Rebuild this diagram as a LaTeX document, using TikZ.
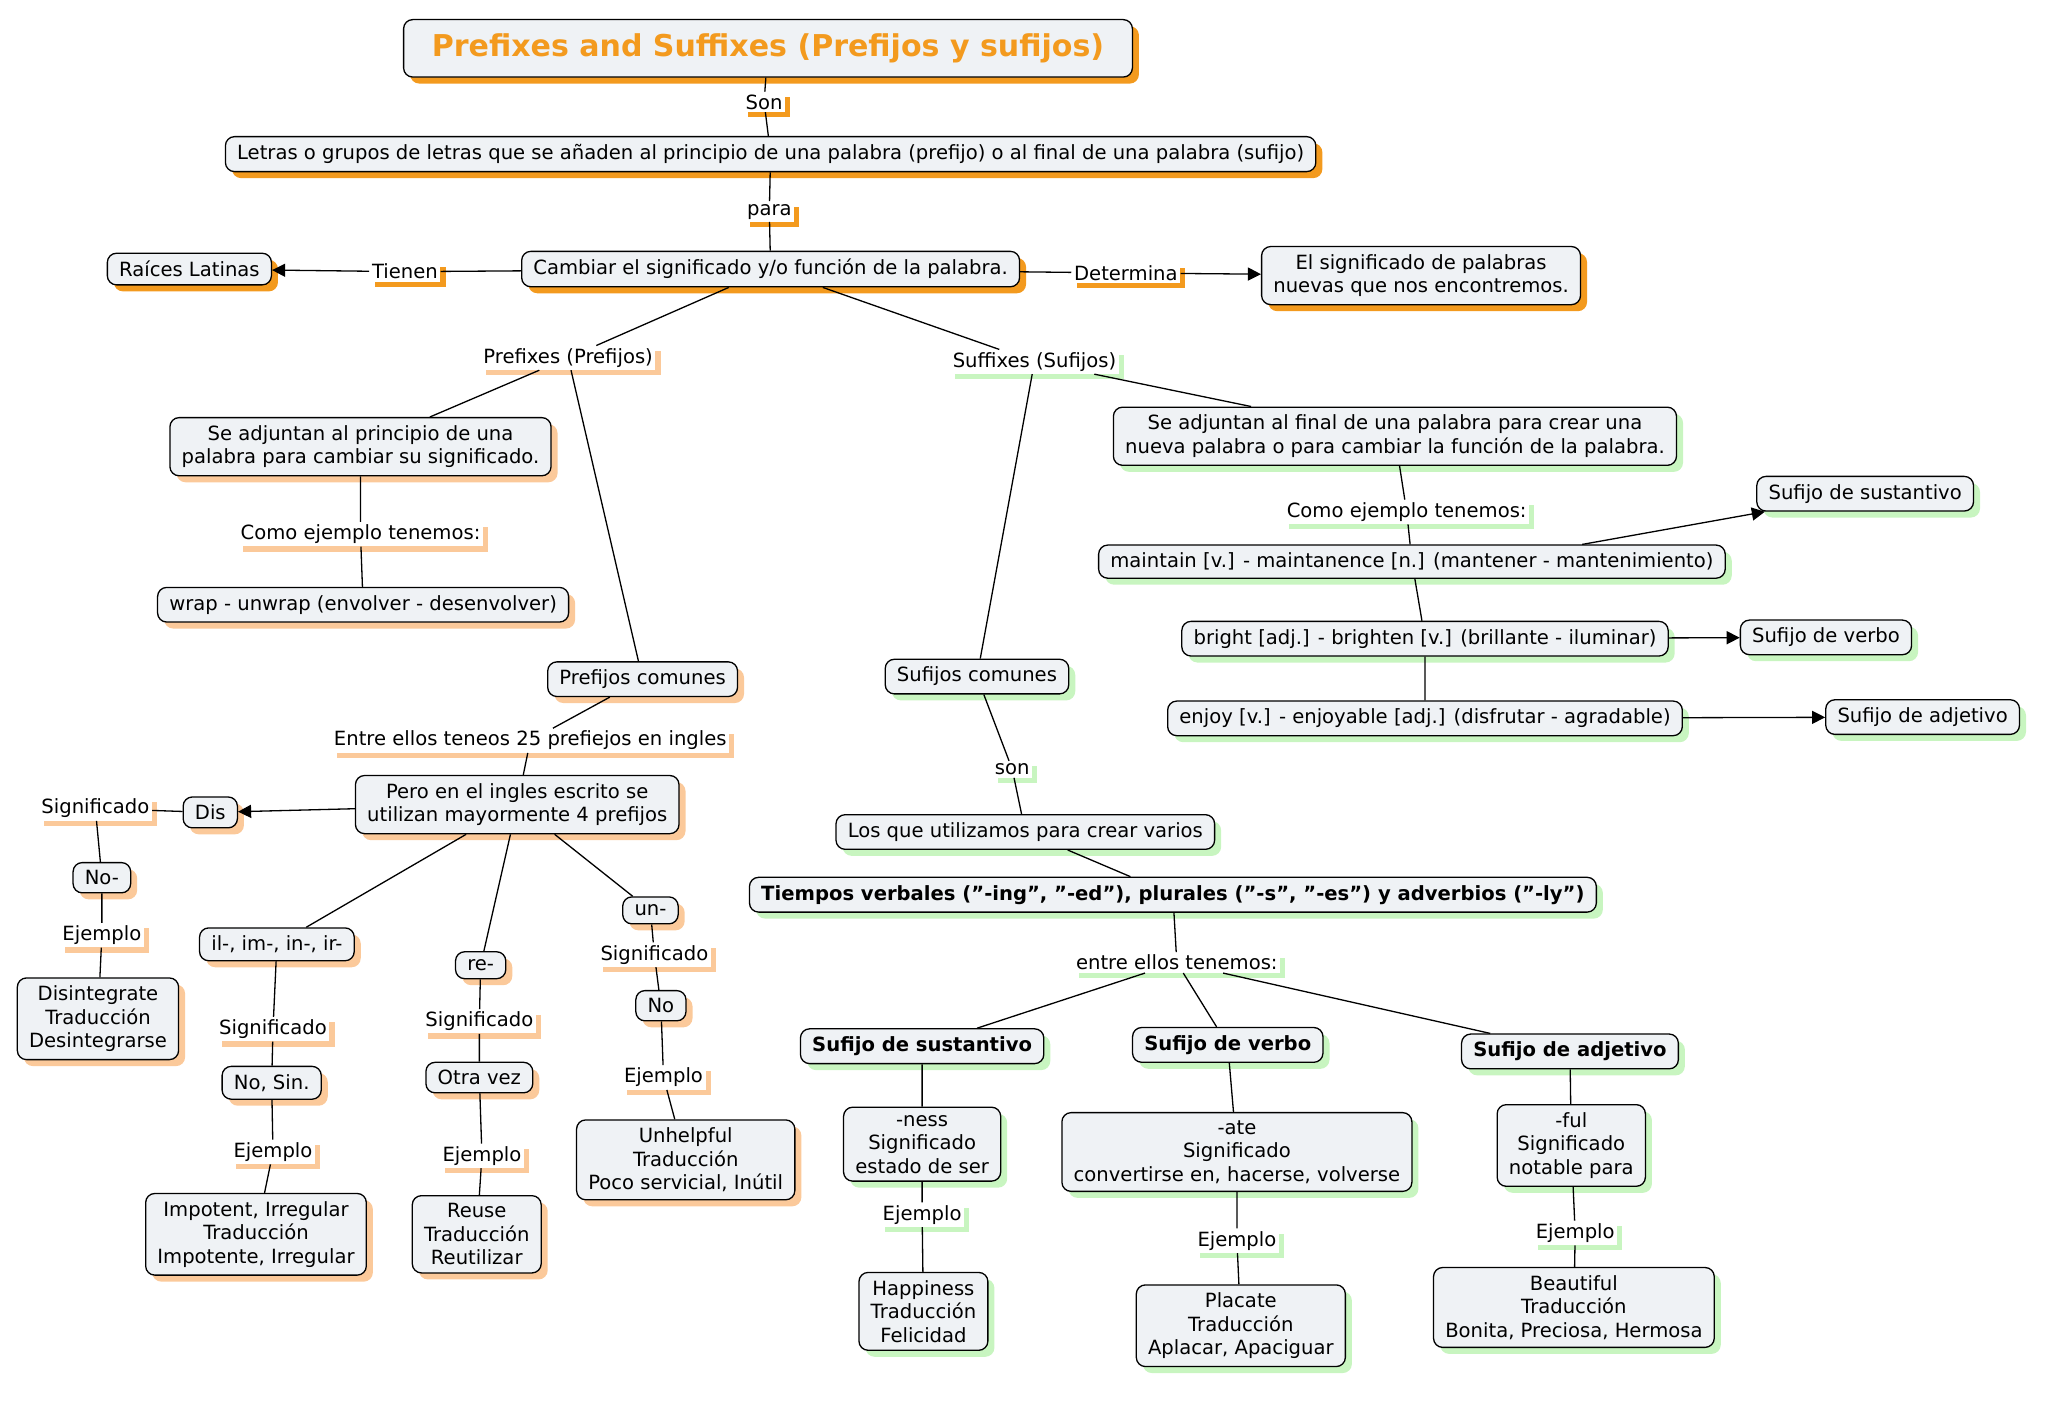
\documentclass[tikz,border=0pt]{standalone}
\usepackage{fontspec}
\setmainfont{DejaVu Sans}
\usetikzlibrary{shadows,arrows.meta}
\definecolor{org}{HTML}{F39A1E}
\definecolor{pch}{HTML}{FBC99A}
\definecolor{grn}{HTML}{C8F5C0}
\definecolor{bx}{HTML}{EFF2F5}
\begin{document}
\begin{tikzpicture}[x=1pt,y=-1pt,font=\fontsize{15}{18}\selectfont,
  base/.style={draw=black,line width=1pt,rounded corners=7pt,fill=bx,align=center,inner xsep=9pt,inner ysep=6pt},
  bo/.style={base,drop shadow={fill=org,opacity=1,shadow xshift=5pt,shadow yshift=-5pt}},
  bp/.style={base,drop shadow={fill=pch,opacity=1,shadow xshift=5pt,shadow yshift=-5pt}},
  bg/.style={base,drop shadow={fill=grn,opacity=1,shadow xshift=5pt,shadow yshift=-5pt}},
  lo/.style={fill=white,inner sep=2pt,drop shadow={fill=org,opacity=1,shadow xshift=4pt,shadow yshift=-4pt}},
  lp/.style={fill=white,inner sep=2pt,drop shadow={fill=pch,opacity=1,shadow xshift=4pt,shadow yshift=-4pt}},
  lg/.style={fill=white,inner sep=2pt,drop shadow={fill=grn,opacity=1,shadow xshift=4pt,shadow yshift=-4pt}},
  ln/.style={line width=1pt},
  ar/.style={line width=1pt,-{Triangle[length=10pt,width=10pt]}}]
\useasboundingbox (0,0) rectangle (1568,1073);
% top
\node[bo,font=\fontsize{23}{26}\selectfont\bfseries,text=org,minimum width=558,minimum height=44] (title) at (588,37) {Prefixes and Suffixes (Prefijos y sufijos)};
\node[lo] (son0) at (585,78) {Son};
\node[bo] (def) at (590,118) {Letras o grupos de letras que se añaden al principio de una palabra (prefijo) o al final de una palabra (sufijo)};
\node[lo] (para) at (589,162) {para};
\node[bo] (camb) at (590,206) {Cambiar el significado y/o función de la palabra.};
\node[lo] (tienen) at (310,208) {Tienen};
\node[bo] (raices) at (145,206) {Raíces Latinas};
\node[lo] (determ) at (862,209) {Determina};
\node[bo] (signif) at (1088,211) {El significado de palabras\\nuevas que nos encontremos.};
\draw[ln] (title)--(son0)--(def)--(para)--(camb);
\draw[ln] (camb)--(tienen); \draw[ar] (tienen)--(raices);
\draw[ln] (camb)--(determ); \draw[ar] (determ)--(signif);
% prefixes
\node[lp] (pref) at (435,274) {Prefixes (Prefijos)};
\node[bp] (sa1) at (276,342) {Se adjuntan al principio de una\\palabra para cambiar su significado.};
\node[lp] (como1) at (276,409) {Como ejemplo tenemos:};
\node[bp] (wrap) at (278,463) {wrap - unwrap (envolver - desenvolver)};
\node[bp] (pcom) at (492,520) {Prefijos comunes};
\node[lp] (entre) at (406,567) {Entre ellos teneos 25 prefiejos en ingles};
\node[bp] (pero) at (396,616) {Pero en el ingles escrito se\\utilizan mayormente 4 prefijos};
\draw[ln] (camb)--(pref); \draw[ln] (pref)--(sa1)--(como1)--(wrap);
\draw[ln] (pref)--(pcom)--(entre)--(pero);
\node[bp] (dis) at (161,622) {Dis};
\node[lp] (s1) at (73,619) {Significado};
\node[bp] (no1) at (78,672) {No-};
\node[lp] (e1) at (78,716) {Ejemplo};
\node[bp] (disint) at (75,780) {Disintegrate\\Traducción\\Desintegrarse};
\draw[ar] (pero)--(dis); \draw[ln] (dis)--(s1)--(no1)--(e1)--(disint);
\node[bp] (il) at (212,723) {il-, im-, in-, ir-};
\node[lp] (s2) at (209,788) {Significado};
\node[bp] (nosin) at (208,829) {No, Sin.};
\node[lp] (e2) at (209,882) {Ejemplo};
\node[bp] (impo) at (196,945) {Impotent, Irregular\\Traducción\\Impotente, Irregular};
\draw[ln] (pero)--(il)--(s2)--(nosin)--(e2)--(impo);
\node[bp] (re) at (368,739) {re-};
\node[lp] (s3) at (367,782) {Significado};
\node[bp] (otra) at (367,825) {Otra vez};
\node[lp] (e3) at (369,885) {Ejemplo};
\node[bp] (reuse) at (365,945) {Reuse\\Traducción\\Reutilizar};
\draw[ln] (pero)--(re)--(s3)--(otra)--(e3)--(reuse);
\node[bp] (un) at (498,697) {un-};
\node[lp] (s4) at (501,731) {Significado};
\node[bp] (no2) at (506,770) {No};
\node[lp] (e4) at (508,825) {Ejemplo};
\node[bp] (unh) at (525,888) {Unhelpful\\Traducción\\Poco servicial, Inútil};
\draw[ln] (pero)--(un)--(s4)--(no2)--(e4)--(unh);
% suffixes
\node[lg] (suf) at (792,277) {Suffixes (Sufijos)};
\node[bg] (sa2) at (1068,334) {Se adjuntan al final de una palabra para crear una\\nueva palabra o para cambiar la función de la palabra.};
\node[lg] (como2) at (1077,392) {Como ejemplo tenemos:};
\node[bg] (maint) at (1081,430) {maintain [v.] - maintanence [n.] (mantener - mantenimiento)};
\node[bg] (bright) at (1091,489) {bright [adj.] - brighten [v.] (brillante - iluminar)};
\node[bg] (enjoy) at (1091,550) {enjoy [v.] - enjoyable [adj.] (disfrutar - agradable)};
\node[bg] (fs) at (1428,378) {Sufijo de sustantivo};
\node[bg] (fv) at (1398,488) {Sufijo de verbo};
\node[bg] (fa) at (1472,549) {Sufijo de adjetivo};
\draw[ln] (camb)--(suf); \draw[ln] (suf)--(sa2)--(como2)--(maint)--(bright)--(enjoy);
\draw[ar] (maint.north east)++(-110,0)--(fs);
\draw[ar] (bright)--(fv); \draw[ar] (enjoy)--(fa);
\node[bg] (scom) at (748,518) {Sufijos comunes};
\node[lg] (son) at (775,589) {son};
\node[bg] (losq) at (785,637) {Los que utilizamos para crear varios};
\node[bg,font=\fontsize{15}{18}\selectfont\bfseries] (tiem) at (898,685) {Tiempos verbales ("-ing", "-ed"), plurales ("-s", "-es") y adverbios ("-ly")};
\node[lg] (entre2) at (901,737) {entre ellos tenemos:};
\draw[ln] (suf)--(scom)--(son)--(losq)--(tiem)--(entre2);
\node[bg,font=\fontsize{15}{18}\selectfont\bfseries] (ss) at (706,801) {Sufijo de sustantivo};
\node[bg,font=\fontsize{15}{18}\selectfont\bfseries] (sv) at (940,800) {Sufijo de verbo};
\node[bg,font=\fontsize{15}{18}\selectfont\bfseries] (sad) at (1202,805) {Sufijo de adjetivo};
\draw[ln] (entre2)--(ss); \draw[ln] (entre2)--(sv); \draw[ln] (entre2)--(sad);
\node[bg] (ness) at (706,876) {-ness\\Significado\\estado de ser};
\node[lg] (e5) at (706,930) {Ejemplo};
\node[bg] (happ) at (707,1004) {Happiness\\Traducción\\Felicidad};
\draw[ln] (ss)--(ness)--(e5)--(happ);
\node[bg] (ate) at (947,882) {-ate\\Significado\\convertirse en, hacerse, volverse};
\node[lg] (e6) at (947,950) {Ejemplo};
\node[bg] (plac) at (950,1015) {Placate\\Traducción\\Aplacar, Apaciguar};
\draw[ln] (sv)--(ate)--(e6)--(plac);
\node[bg] (ful) at (1203,877) {-ful\\Significado\\notable para};
\node[lg] (e7) at (1206,944) {Ejemplo};
\node[bg] (beau) at (1205,1001) {Beautiful\\Traducción\\Bonita, Preciosa, Hermosa};
\draw[ln] (sad)--(ful)--(e7)--(beau);
\end{tikzpicture}
\end{document}
